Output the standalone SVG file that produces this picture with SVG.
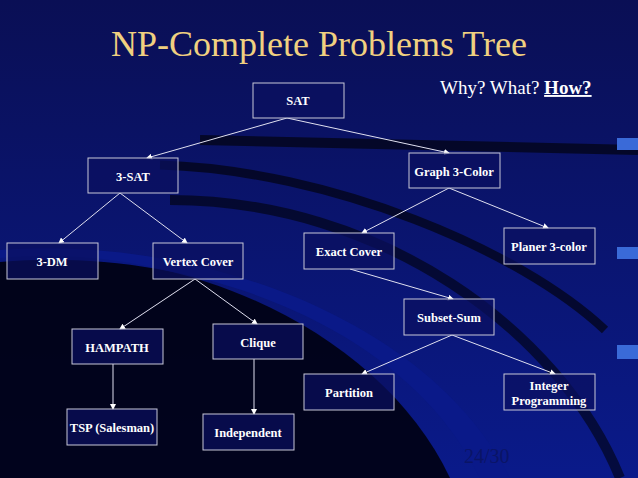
<svg xmlns="http://www.w3.org/2000/svg" width="638" height="478" viewBox="0 0 638 478">
<defs>
<linearGradient id="bg" x1="0" y1="0" x2="0" y2="1"><stop offset="0" stop-color="#0a0f55"/><stop offset="1" stop-color="#0a1a8a"/></linearGradient>
<marker id="a" markerWidth="6" markerHeight="6" refX="5" refY="3" orient="auto" markerUnits="userSpaceOnUse"><path d="M0,0 L6,3 L0,6 z" fill="#fff"/></marker>
<style>
.t{font-family:"Liberation Serif","Times New Roman","DejaVu Serif",serif}
.n rect{fill:#0a0f60;fill-opacity:0.7;stroke:#c8c8d8;stroke-width:1}
.n text{fill:#fff;font-family:"Liberation Serif",serif;font-weight:bold;font-size:12.5px;text-anchor:middle}
#edges line{stroke:#e0e0f0;stroke-width:1;marker-end:url(#a)}
</style>
</defs>
<rect width="638" height="478" fill="url(#bg)"/>
<path d="M0,258 C180,240 380,330 450,478 L0,478 Z" fill="#00000a" opacity="0.85"/>
<path d="M0,250 C200,235 430,320 510,478 L480,478 C410,330 200,245 0,262 Z" fill="#0a1a8a" opacity="0.9"/>
<path d="M160,165 C330,170 520,250 605,330" fill="none" stroke="#000" stroke-width="9" opacity="0.6"/>
<path d="M170,200 C380,200 560,330 620,478" fill="none" stroke="#000" stroke-width="10" opacity="0.55"/>
<path d="M200,140 L638,150" fill="none" stroke="#000" stroke-width="10" opacity="0.6"/>
<rect x="617" y="138" width="21" height="12" fill="#3a6ad8"/>
<rect x="617" y="247" width="21" height="12" fill="#3a6ad8"/>
<rect x="617" y="345" width="21" height="14" fill="#3a6ad8"/>
<text class="t" x="319" y="56" style="font-size:36px" fill="#f0d080" text-anchor="middle">NP-Complete Problems Tree</text>
<text class="t" x="440" y="94" font-size="19" fill="#fff">Why? What? <tspan font-weight="bold" text-decoration="underline">How?</tspan></text>
<text class="t" x="464" y="463" font-size="20" fill="#0a1466">24/30</text>
<g id="edges">
<line x1="287" y1="118" x2="147" y2="158"/>
<line x1="287" y1="118" x2="449" y2="153"/>
<line x1="449" y1="188" x2="362" y2="233"/>
<line x1="449" y1="188" x2="548" y2="228"/>
<line x1="120" y1="193" x2="59" y2="243"/>
<line x1="120" y1="193" x2="187" y2="243"/>
<line x1="195" y1="279" x2="120" y2="329"/>
<line x1="195" y1="279" x2="257" y2="324"/>
<line x1="350" y1="269" x2="453" y2="299"/>
<line x1="452" y1="335" x2="362" y2="374"/>
<line x1="452" y1="335" x2="555" y2="374"/>
<line x1="113" y1="364" x2="113" y2="409"/>
<line x1="254" y1="359" x2="254" y2="414"/>
</g>
<g id="sat" class="n"><rect x="253" y="83" width="91" height="35"/><text x="298" y="105">SAT</text></g>
<g id="sat3" class="n"><rect x="88" y="158" width="90" height="35"/><text x="133" y="181">3-SAT</text></g>
<g id="g3c" class="n"><rect x="409" y="153" width="91" height="35"/><text x="454" y="176">Graph 3-Color</text></g>
<g id="dm3" class="n"><rect x="7" y="243" width="91" height="36"/><text x="52" y="266">3-DM</text></g>
<g id="vc" class="n"><rect x="153" y="243" width="90" height="36"/><text x="198" y="266">Vertex Cover</text></g>
<g id="ec" class="n"><rect x="304" y="233" width="90" height="36"/><text x="349" y="256">Exact Cover</text></g>
<g id="p3c" class="n"><rect x="504" y="228" width="91" height="36"/><text x="549" y="251">Planer 3-color</text></g>
<g id="ss" class="n"><rect x="404" y="299" width="90" height="36"/><text x="449" y="322">Subset-Sum</text></g>
<g id="ham" class="n"><rect x="72" y="329" width="91" height="35"/><text x="117" y="352">HAMPATH</text></g>
<g id="cl" class="n"><rect x="213" y="324" width="90" height="35"/><text x="258" y="347">Clique</text></g>
<g id="pa" class="n"><rect x="304" y="374" width="90" height="36"/><text x="349" y="397">Partition</text></g>
<g id="ip" class="n"><rect x="504" y="374" width="91" height="36"/><text x="549" y="390">Integer</text><text x="549" y="405">Programming</text></g>
<g id="tsp" class="n"><rect x="67" y="409" width="90" height="36"/><text x="112" y="432">TSP (Salesman)</text></g>
<g id="ind" class="n"><rect x="203" y="414" width="91" height="36"/><text x="248" y="437">Independent</text></g>
</svg>
